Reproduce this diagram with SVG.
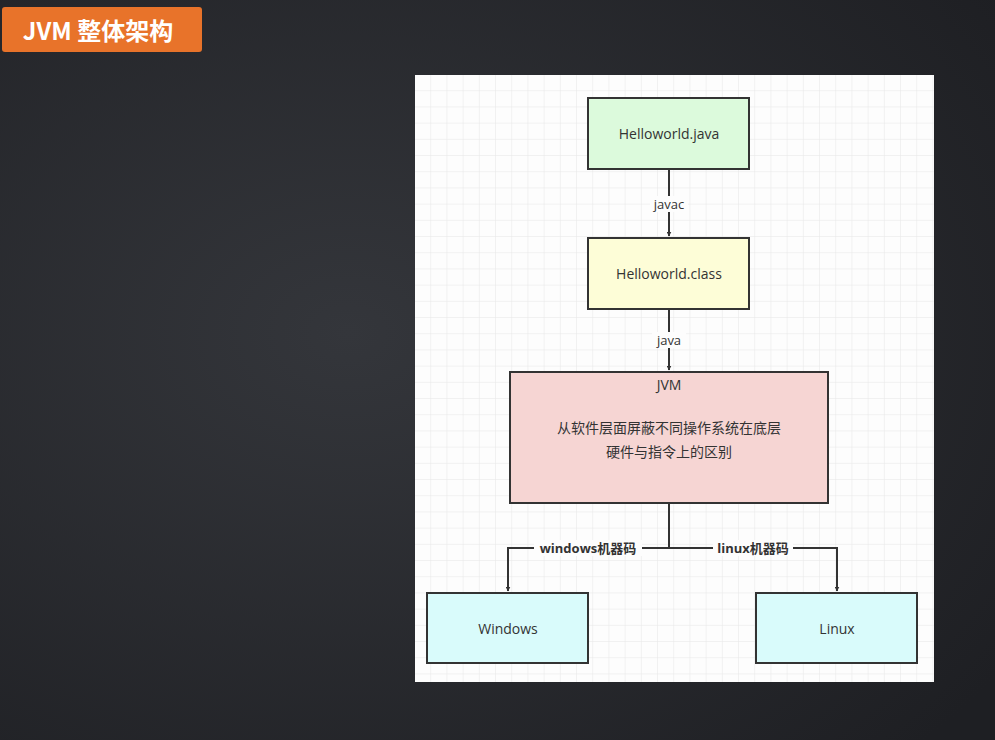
<svg xmlns="http://www.w3.org/2000/svg" width="995" height="740" viewBox="0 0 995 740">
<defs>
<radialGradient id="bg" cx="0.35" cy="0.45" r="0.8"><stop offset="0" stop-color="#34363b"/><stop offset="1" stop-color="#1e1f23"/></radialGradient>
<pattern id="grid" width="16.2" height="16.2" patternUnits="userSpaceOnUse" x="415" y="75"><path d="M16.2 0V16.2H0" fill="none" stroke="#e6e6e6" stroke-width="1"/></pattern>
<marker id="ar" viewBox="0 0 10 10" refX="9" refY="5" markerWidth="5" markerHeight="5" orient="auto" markerUnits="userSpaceOnUse"><path d="M0 0L10 5L0 10z" fill="#333"/></marker>
</defs>
<style>
.n{stroke:#333;stroke-width:2}
.t{font-family:"Open Sans","Noto Sans CJK SC",sans-serif;font-size:14px;fill:#333;text-anchor:middle}
.c{fill:none;stroke:#333;stroke-width:2}
.l{font-family:"Open Sans","Noto Sans CJK SC",sans-serif;font-size:13px;fill:#333;text-anchor:middle}
</style>
<rect width="995" height="740" fill="url(#bg)"/>
<g id="title"><rect x="2" y="7" width="200" height="45" rx="3" fill="#e8732a"/><text x="98" y="40" font-family="'Noto Sans CJK SC',sans-serif" font-weight="bold" font-size="24" fill="#fff" text-anchor="middle">JVM 整体架构</text></g>
<rect x="415" y="75" width="519" height="607" fill="#fdfdfd"/>
<rect x="415" y="75" width="519" height="607" fill="url(#grid)"/>
<g id="connectors">
<line class="c" x1="669" y1="169" x2="669" y2="236" marker-end="url(#ar)"/>
<rect x="650" y="196" width="38" height="16" fill="#fdfdfd"/><text class="l" x="669" y="209">javac</text>
<line class="c" x1="669" y1="309" x2="669" y2="370" marker-end="url(#ar)"/>
<rect x="652" y="332" width="34" height="16" fill="#fdfdfd"/><text class="l" x="669" y="345">java</text>
<path class="c" d="M669 503V548H508V591" marker-end="url(#ar)"/>
<path class="c" d="M669 548H837V591" marker-end="url(#ar)"/>
<rect x="534" y="540" width="108" height="16" fill="#fdfdfd"/><text class="l" x="588" y="553" font-weight="bold">windows机器码</text>
<rect x="713" y="540" width="80" height="16" fill="#fdfdfd"/><text class="l" x="753" y="553" font-weight="bold">linux机器码</text>
</g>
<g id="java"><rect class="n" x="588" y="98" width="161" height="71" fill="#dcfadc"/><text class="t" x="669" y="139">Helloworld.java</text></g>
<g id="class"><rect class="n" x="588" y="238" width="161" height="71" fill="#fdfdd7"/><text class="t" x="669" y="279">Helloworld.class</text></g>
<g id="jvm"><rect class="n" x="510" y="372" width="318" height="131" fill="#f6d5d3"/><text class="t" x="669" y="390" font-size="17">JVM</text><text class="t" x="669" y="433" font-size="16">从软件层面屏蔽不同操作系统在底层</text><text class="t" x="669" y="457" font-size="16">硬件与指令上的区别</text></g>
<g id="windows"><rect class="n" x="427" y="593" width="161" height="70" fill="#d9fbfb"/><text class="t" x="508" y="634">Windows</text></g>
<g id="linux"><rect class="n" x="756" y="593" width="161" height="70" fill="#d9fbfb"/><text class="t" x="837" y="634">Linux</text></g>
</svg>
